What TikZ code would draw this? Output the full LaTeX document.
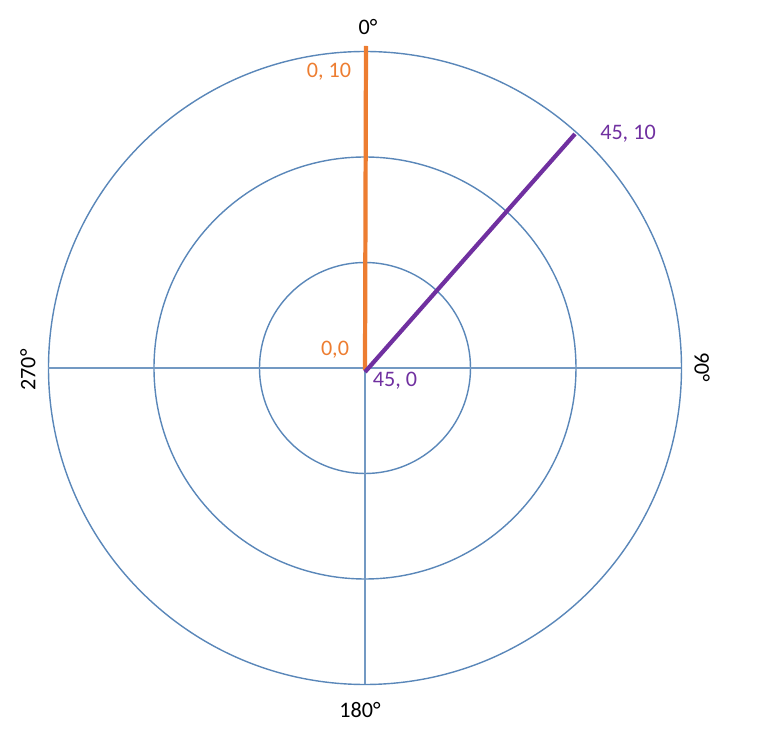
\documentclass[tikz,border=0pt]{standalone}
\usepackage{fontspec}
\setmainfont{Carlito}
\usetikzlibrary{positioning}
\definecolor{GridBlue}{RGB}{90,135,185}
\definecolor{OrangeLine}{RGB}{237,125,49}
\definecolor{PurpleLine}{RGB}{112,48,160}

\begin{document}
\begin{tikzpicture}[
  ring/.style={draw=GridBlue, line width=0.8pt},
  axis/.style={draw=GridBlue!85, line width=0.6pt},
  vec/.style={line width=2.4pt},
  deg/.style={font=\fontsize{12.6}{14}\selectfont, text=black, inner sep=1pt},
  tag/.style={font=\fontsize{12.6}{14}\selectfont, inner sep=1pt},
]
\useasboundingbox (-7.3,-7.68) rectangle (7.9,7.36);

\coordinate (O) at (0,0);
% rings
\foreach \r/\n in {2.11/in, 4.22/mid, 6.33/out}
  \draw[ring] (O) circle (\r);

% axes
\coordinate (W) at (-6.33,0);
\coordinate (E) at (6.33,0);
\coordinate (S) at (0,-6.33);
\draw[axis] (W) -- (E);
\draw[axis] (O) -- (S);

% degree labels
\node[deg] (d0) at (0.06,6.82) {0°};
\node[deg, rotate=-90] (d90) at (6.74,0.02) {90°};
\node[deg] (d180) at (-0.1,-6.84) {180°};
\node[deg, rotate=90] (d270) at (-6.74,-0.04) {270°};

% orange vector
\coordinate (oA) at (0,-0.04);
\coordinate (oB) at (0.02,6.44);
\draw[vec, OrangeLine] (oA) -- (oB);
\node[tag, text=OrangeLine] (o0) at (-0.6,0.36) {0,0};
\node[tag, text=OrangeLine] (o10) at (-0.72,5.92) {0, 10};

% purple vector
\coordinate (pA) at (0,-0.08);
\coordinate (pB) at (4.2,4.68);
\draw[vec, PurpleLine] (pA) -- (pB);
\node[tag, text=PurpleLine] (p0) at (0.6,-0.26) {45, 0};
\node[tag, text=PurpleLine] (p10) at (5.26,4.68) {45, 10};
\end{tikzpicture}
\end{document}
